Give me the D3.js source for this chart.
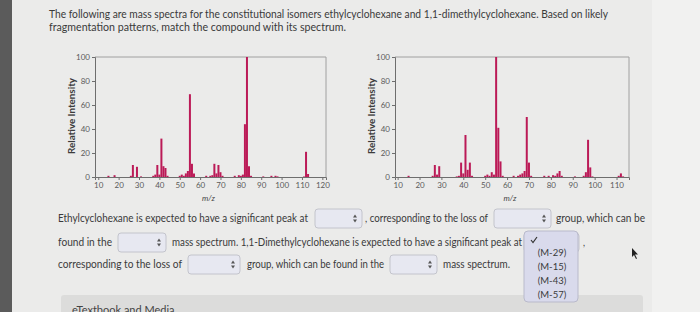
<!DOCTYPE html>
<html>
<head>
<meta charset="utf-8">
<script src="https://cdn.jsdelivr.net/npm/d3@7"></script>
<style>
  body { margin: 0; background: #ebebea; }
  svg { display: block; font-family: Lato, "Open Sans", sans-serif; }
</style>
</head>
<body>
<svg id="page" width="700" height="312"></svg>
<script>
// left spectrum (ethylcyclohexane)
const mzA = [15, 18, 26, 27, 29, 31, 37, 38, 39, 40, 41, 42, 43, 44, 50, 51, 52, 53, 54, 55, 56, 57, 63, 65, 66, 67, 68, 69, 70, 71, 77, 79, 80, 81, 82, 83, 84, 85, 91, 95, 97, 98, 111, 112, 113];
const intA = [1, 1.5, 1, 10, 8.5, 0.5, 1, 2, 10, 2, 32, 9, 7.5, 1, 1, 2, 1, 3, 5, 69, 11, 3, 1, 1, 1.5, 11, 3, 10, 4, 1, 1, 1.5, 1, 2, 44, 100, 9, 1, 0.5, 1, 1, 0.5, 0.5, 21, 2.5];
// right spectrum (1,1-dimethylcyclohexane)
const mzB = [15, 26, 27, 28, 29, 37, 38, 39, 40, 41, 42, 43, 44, 50, 51, 52, 53, 54, 55, 56, 57, 58, 63, 65, 66, 67, 68, 69, 70, 71, 77, 79, 81, 82, 83, 84, 85, 91, 95, 96, 97, 98, 99, 111, 112, 113];
const intB = [1, 1, 10, 2, 9, 0.5, 1, 12, 3, 35, 6, 12, 1, 1, 2, 1, 4, 2, 100, 41, 13, 1, 1, 1, 2, 3, 5, 50, 12, 1, 1, 1, 1.5, 1, 3, 5, 1, 0.5, 1, 4, 31, 8, 0.5, 1, 3, 0.5];

const yTicks = [0, 20, 40, 60, 80, 100];
const xTicksA = [10, 20, 30, 40, 50, 60, 70, 80, 90, 100, 110, 120];
const xTicksB = [10, 20, 30, 40, 50, 60, 70, 80, 90, 100, 110];
const menuItems = ["(M-29)", "(M-15)", "(M-43)", "(M-57)"];

const svg = d3.select("#page");

// page chrome
svg.append("rect").attr("x", 652).attr("y", 0).attr("width", 48).attr("height", 312).attr("fill", "#f1f1f0");
svg.append("rect").attr("x", 0).attr("y", 0).attr("width", 12).attr("height", 312).attr("fill", "#5b5b5b");

const para = svg.append("g").attr("fill", "#3a3a3a").style("font-size", "11px");
para.append("text").attr("x", 49).attr("y", 18).attr("textLength", 559).attr("lengthAdjust", "spacingAndGlyphs")
  .text("The following are mass spectra for the constitutional isomers ethylcyclohexane and 1,1-dimethylcyclohexane. Based on likely");
para.append("text").attr("x", 49).attr("y", 31).attr("textLength", 297).attr("lengthAdjust", "spacingAndGlyphs")
  .text("fragmentation patterns, match the compound with its spectrum.");

function spectrum(mz, inten, xTicks, domain, left, right, titleX) {
  const x = d3.scaleLinear().domain(domain).range([left, right]);
  const y = d3.scaleLinear().domain([0, 100]).range([177, 57]);
  const g = svg.append("g");

  // frame
  g.append("path").attr("d", `M${left},57H${right}V177`).attr("fill", "none").attr("stroke", "#a0a0a0").attr("stroke-width", 1);

  const xAxis = g.append("g").attr("transform", "translate(0,177)")
    .call(d3.axisBottom(x).tickValues(xTicks).tickSize(3).tickPadding(2));
  const yAxis = g.append("g").attr("transform", `translate(${left},0)`)
    .call(d3.axisLeft(y).tickValues(yTicks).tickSize(3).tickPadding(2));
  [xAxis, yAxis].forEach(a => {
    a.select(".domain").attr("stroke", "#6e6e6e");
    a.selectAll(".tick line").attr("stroke", "#6e6e6e");
    a.selectAll("text").attr("fill", "#5a5a5a").style("font-size", "8px").style("font-family", "Lato, sans-serif");
  });

  g.selectAll("line.peak")
    .data(mz.map((m, i) => ({m, v: inten[i]})))
    .enter().append("line")
    .attr("class", "peak")
    .attr("x1", d => x(d.m)).attr("x2", d => x(d.m))
    .attr("y1", y(0)).attr("y2", d => y(d.v))
    .attr("stroke", "#bb1a57").attr("stroke-width", 2);

  g.append("text").attr("transform", `translate(${titleX},116) rotate(-90)`)
    .attr("text-anchor", "middle").attr("fill", "#3c3c3c")
    .style("font-size", "8.5px").style("font-weight", "bold")
    .attr("textLength", 76).attr("lengthAdjust", "spacingAndGlyphs")
    .text("Relative Intensity");
  g.append("text").attr("x", (left + right) / 2 - 2).attr("y", 201)
    .attr("text-anchor", "middle").attr("fill", "#444")
    .style("font-size", "8px").style("font-style", "italic").text("m/z");
}

spectrum(mzA, intA, xTicksA, [8.4, 121.8], 95, 326, 75);
spectrum(mzB, intB, xTicksB, [8.8, 115.7], 395, 629, 375);

// question text with select boxes
const q = svg.append("g").attr("fill", "#3a3a3a").style("font-size", "10.5px");
const words = [
  {t: "Ethylcyclohexane is expected to have a significant peak at", x: 58, y: 222, w: 250},
  {t: ", corresponding to the loss of", x: 365, y: 222, w: 123},
  {t: "group, which can be", x: 556, y: 222, w: 89},
  {t: "found in the", x: 58, y: 246, w: 54},
  {t: "mass spectrum.  1,1-Dimethylcyclohexane is expected to have a significant peak at", x: 172, y: 246, w: 350},
  {t: ",", x: 583, y: 246, w: 2},
  {t: "corresponding to the loss of", x: 58, y: 268, w: 124},
  {t: "group, which can be found in the", x: 247, y: 268, w: 137},
  {t: "mass spectrum.", x: 443, y: 268, w: 67}
];
q.selectAll("text").data(words).enter().append("text")
  .attr("x", d => d.x).attr("y", d => d.y)
  .attr("textLength", d => d.w).attr("lengthAdjust", "spacingAndGlyphs")
  .text(d => d.t);

const boxes = [
  {x: 315, y: 209, w: 47}, {x: 494, y: 209, w: 57},
  {x: 118, y: 233, w: 48}, {x: 524, y: 233, w: 55},
  {x: 188, y: 255, w: 52}, {x: 390, y: 255, w: 47}
];
const sel = svg.append("g").selectAll("g").data(boxes).enter().append("g");
sel.append("rect").attr("x", d => d.x).attr("y", d => d.y).attr("width", d => d.w).attr("height", 19)
  .attr("rx", 3).attr("fill", "#e7e8f1").attr("stroke", "#c3c4cc");
sel.append("path").attr("d", d => {
  const cx = d.x + d.w - 7, cy = d.y + 9.5;
  return `M${cx - 2},${cy - 1}L${cx},${cy - 4}L${cx + 2},${cy - 1}Z M${cx - 2},${cy + 1}L${cx},${cy + 4}L${cx + 2},${cy + 1}Z`;
}).attr("fill", "#555");

// cursor
svg.append("path").attr("d", "M632,248l0,9l2,-2l2,4l1,-0.5l-2,-4l3,0z").attr("fill", "#222");

// eTextbook panel
svg.append("rect").attr("x", 61).attr("y", 295).attr("width", 582).attr("height", 20).attr("rx", 3).attr("fill", "#dcdcdb");
svg.append("text").attr("x", 72).attr("y", 314).attr("fill", "#444").style("font-size", "11px").text("eTextbook and Media");

// open dropdown menu (drawn over the panel)
const menu = svg.append("g");
menu.append("rect").attr("x", 524).attr("y", 231).attr("width", 54).attr("height", 71).attr("rx", 4)
  .attr("fill", "#d9daec").attr("stroke", "#b9bacb");
// check mark
menu.append("path").attr("d", "M531,240l2,2.5l4,-5.5").attr("fill", "none").attr("stroke", "#333").attr("stroke-width", 1.2);
menu.selectAll("text.item").data(menuItems).enter().append("text")
  .attr("class", "item").attr("x", 552).attr("y", (d, i) => 256 + i * 14)
  .attr("text-anchor", "middle").attr("fill", "#3a3a3a").style("font-size", "9.5px").text(d => d);
</script>
</body>
</html>
